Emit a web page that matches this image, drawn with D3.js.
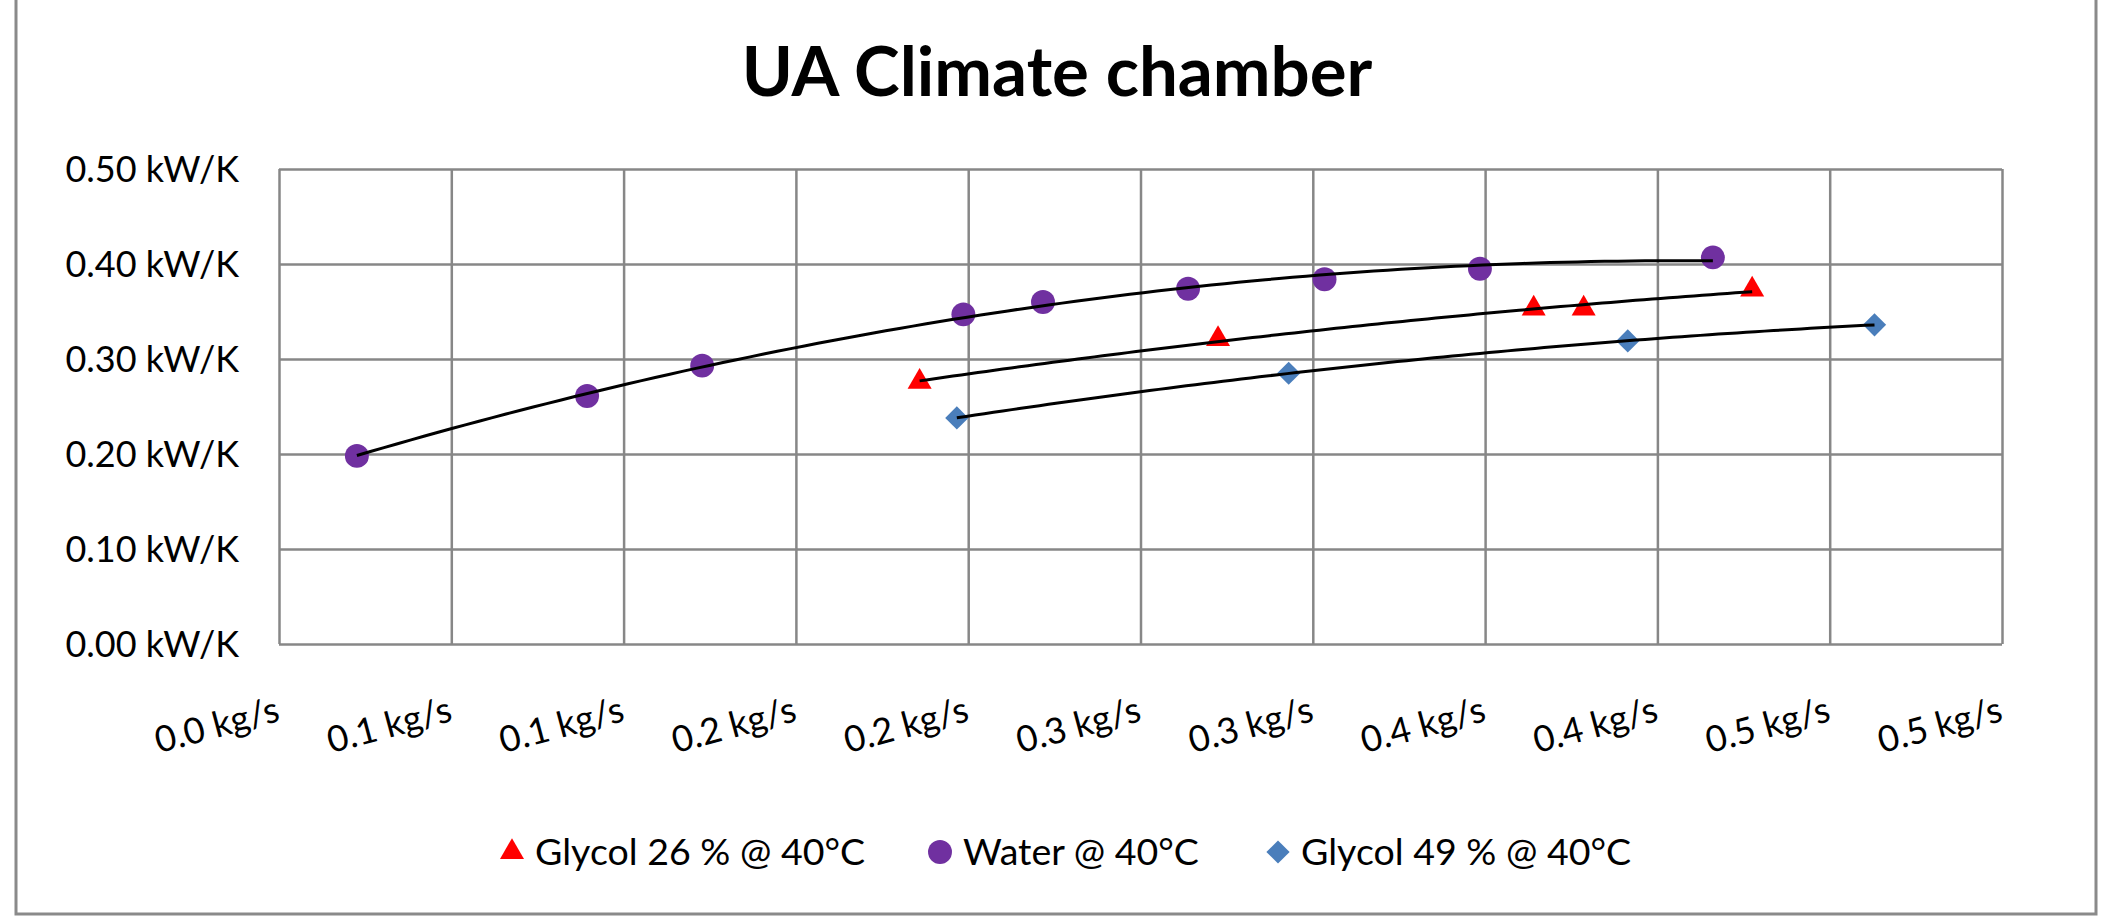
<!DOCTYPE html>
<html>
<head>
<meta charset="utf-8">
<script src="https://cdn.jsdelivr.net/npm/d3@7"></script>
<style>
  html, body { margin: 0; padding: 0; background: #fff; }
  svg { display: block; }
  text { font-family: Lato, "Open Sans", sans-serif; fill: #000; }
</style>
</head>
<body>
<svg id="chart" width="2104" height="924"></svg>
<script>
// ---- data ----
const title = "UA Climate chamber";
const seriesNames = ["Glycol 26 % @ 40°C", "Water @ 40°C", "Glycol 49 % @ 40°C"];
const glycol26X = [0.1859, 0.2725, 0.3641, 0.3786, 0.4275];
const glycol26Y = [0.276, 0.321, 0.353, 0.353, 0.373];
const waterX = [0.0226, 0.0894, 0.1228, 0.1986, 0.2217, 0.2638, 0.3034, 0.3485, 0.4161];
const waterY = [0.198, 0.261, 0.293, 0.347, 0.360, 0.374, 0.384, 0.395, 0.407];
const glycol49X = [0.1967, 0.2930, 0.3914, 0.4630];
const glycol49Y = [0.238, 0.285, 0.319, 0.336];
const yTicks = [0, 0.1, 0.2, 0.3, 0.4, 0.5];
const yTickLabels = ["0.00 kW/K", "0.10 kW/K", "0.20 kW/K", "0.30 kW/K", "0.40 kW/K", "0.50 kW/K"];
const xTicks = [0, 0.05, 0.1, 0.15, 0.2, 0.25, 0.3, 0.35, 0.4, 0.45, 0.5];
const xTickLabels = ["0.0 kg/s", "0.1 kg/s", "0.1 kg/s", "0.2 kg/s", "0.2 kg/s", "0.3 kg/s",
                     "0.3 kg/s", "0.4 kg/s", "0.4 kg/s", "0.5 kg/s", "0.5 kg/s"];

// ---- layout ----
const svg = d3.select("#chart");
const L = 279, R = 2002, T = 169, B = 644;
const gridColor = "#878787";

const x = d3.scaleLinear().domain([0, 0.5]).range([L, R]);
const y = d3.scaleLinear().domain([0, 0.5]).range([B, T]);

// outer border
svg.append("path")
  .attr("d", `M16,-5 L16,914 L2096,914 L2096,-5`)
  .attr("fill", "none").attr("stroke", "#8a8a8a").attr("stroke-width", 3);

// title
svg.append("text").attr("x", 1057).attr("y", 96)
  .attr("text-anchor", "middle").attr("font-weight", "bold").attr("font-size", 69)
  .text(title);

// gridlines via axes
const yGrid = svg.append("g").attr("transform", `translate(${L},0)`)
  .call(d3.axisLeft(y).tickValues(yTicks).tickSize(-(R - L)).tickFormat(""));
yGrid.select(".domain").remove();
yGrid.selectAll("line").attr("stroke", gridColor).attr("stroke-width", 2.5);

const xGrid = svg.append("g").attr("transform", `translate(0,${B})`)
  .call(d3.axisBottom(x).tickValues(xTicks).tickSize(-(B - T)).tickFormat(""));
xGrid.select(".domain").remove();
xGrid.selectAll("line").attr("stroke", gridColor).attr("stroke-width", 2.5);

// y labels
const yAxis = svg.append("g").attr("transform", `translate(${L},0)`)
  .call(d3.axisLeft(y).tickValues(yTicks).tickSize(0).tickPadding(40)
    .tickFormat((d, i) => yTickLabels[i]));
yAxis.select(".domain").remove();
yAxis.selectAll("text").attr("font-size", 36).attr("font-family", "Lato, sans-serif")
  .attr("dy", "0.35em");

// x labels (rotated)
const xAxis = svg.append("g").attr("transform", `translate(0,${B})`)
  .call(d3.axisBottom(x).tickValues(xTicks).tickSize(0)
    .tickFormat((d, i) => xTickLabels[i]));
xAxis.select(".domain").remove();
xAxis.selectAll("text")
  .attr("font-size", 36).attr("font-family", "Lato, sans-serif")
  .attr("text-anchor", "end")
  .attr("x", 2).attr("y", 0).attr("dy", 0)
  .attr("transform", "translate(0,77) rotate(-15)");

// quadratic least-squares trendline
function quadFit(xs, ys) {
  let s = [0, 0, 0, 0, 0], t = [0, 0, 0];
  xs.forEach((xv, i) => {
    for (let k = 0; k < 5; k++) s[k] += Math.pow(xv, k);
    for (let k = 0; k < 3; k++) t[k] += ys[i] * Math.pow(xv, k);
  });
  const M = [[s[0], s[1], s[2], t[0]], [s[1], s[2], s[3], t[1]], [s[2], s[3], s[4], t[2]]];
  for (let c = 0; c < 3; c++) {
    let p = c;
    for (let r = c + 1; r < 3; r++) if (Math.abs(M[r][c]) > Math.abs(M[p][c])) p = r;
    [M[c], M[p]] = [M[p], M[c]];
    for (let r = 0; r < 3; r++) if (r !== c) {
      const f = M[r][c] / M[c][c];
      for (let k = c; k < 4; k++) M[r][k] -= f * M[c][k];
    }
  }
  const a = M.map((row, i) => row[3] / row[i]);
  return xv => a[0] + a[1] * xv + a[2] * xv * xv;
}

const series = [
  { name: seriesNames[0], xs: glycol26X, ys: glycol26Y, color: "#FF0000", symbol: d3.symbolTriangle, size: 250, rot: 0 },
  { name: seriesNames[1], xs: waterX, ys: waterY, color: "#7030A0", symbol: d3.symbolCircle, size: 450, rot: 0 },
  { name: seriesNames[2], xs: glycol49X, ys: glycol49Y, color: "#4A7EBB", symbol: d3.symbolSquare, size: 270, rot: 45 }
];

const line = d3.line().x(d => x(d[0])).y(d => y(d[1]));

series.forEach(s => {
  const g = svg.append("g");
  g.selectAll("path.pt").data(s.xs.map((xv, i) => [xv, s.ys[i]])).join("path")
    .attr("class", "pt")
    .attr("transform", d => `translate(${x(d[0])},${y(d[1])}) rotate(${s.rot})`)
    .attr("d", d3.symbol().type(s.symbol).size(s.size))
    .attr("fill", s.color);
});
series.forEach(s => {
  const f = quadFit(s.xs, s.ys);
  const x0 = d3.min(s.xs), x1 = d3.max(s.xs);
  const pts = d3.range(0, 101).map(i => { const xv = x0 + (x1 - x0) * i / 100; return [xv, f(xv)]; });
  svg.append("path").datum(pts).attr("d", line)
    .attr("fill", "none").attr("stroke", "#000").attr("stroke-width", 3);
});

// legend
const legendX = [512, 940, 1278];
const legendTextX = [535, 963, 1301];
const legendY = 852;
series.forEach((s, i) => {
  svg.append("path")
    .attr("transform", `translate(${legendX[i]},${legendY}) rotate(${s.rot})`)
    .attr("d", d3.symbol().type(s.symbol).size(s.size))
    .attr("fill", s.color);
  svg.append("text").attr("x", legendTextX[i]).attr("y", legendY + 13)
    .attr("font-size", 37.5).text(s.name);
});
</script>
</body>
</html>
